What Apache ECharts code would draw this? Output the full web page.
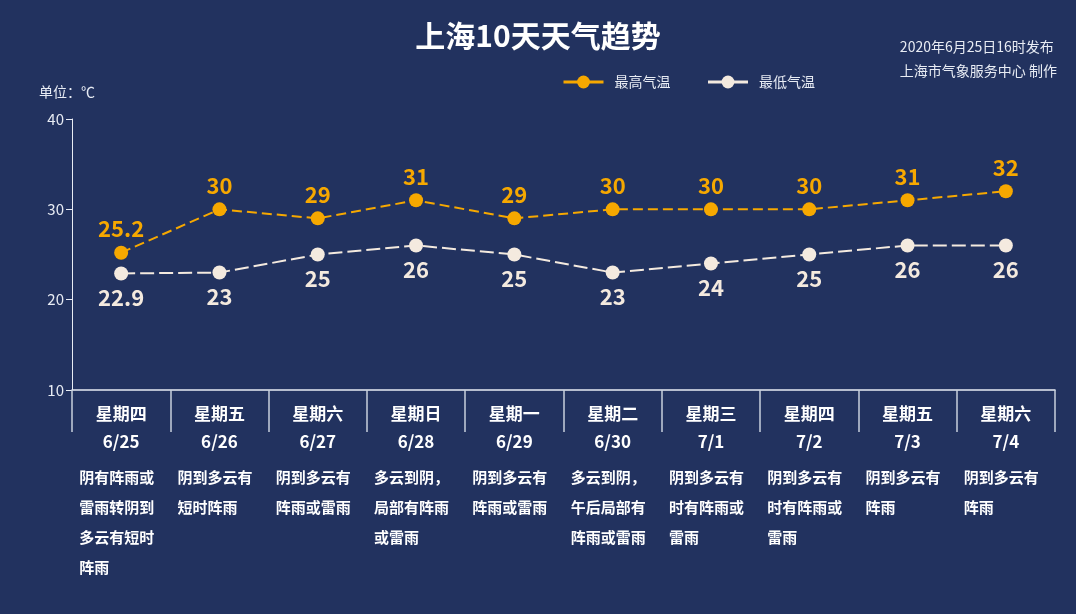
<!DOCTYPE html>
<html>
<head>
<meta charset="utf-8">
<script src="https://cdn.jsdelivr.net/npm/echarts@6/dist/echarts.min.js"></script>
<style>
html,body{margin:0;padding:0;background:#22325f;}
#chart{width:1076px;height:614px;}
</style>
</head>
<body>
<div id="chart"></div>
<script>
// 数据
var weeks = ['星期四','星期五','星期六','星期日','星期一','星期二','星期三','星期四','星期五','星期六'];
var dates = ['6/25','6/26','6/27','6/28','6/29','6/30','7/1','7/2','7/3','7/4'];
var descs = ['阴有阵雨或雷雨转阴到多云有短时阵雨','阴到多云有短时阵雨','阴到多云有阵雨或雷雨','多云到阴，局部有阵雨或雷雨',
	'阴到多云有阵雨或雷雨','多云到阴，午后局部有阵雨或雷雨','阴到多云有时有阵雨或雷雨','阴到多云有时有阵雨或雷雨','阴到多云有阵雨','阴到多云有阵雨'];
var highTemp = [25.2,30,29,31,29,30,30,30,31,32];
var lowTemp = [22.9,23,25,26,25,23,24,25,26,26];

var font = '"Noto Sans CJK SC", sans-serif';
var chart = echarts.init(document.getElementById('chart'));
var cats = weeks.map(function(w, i){ return w + '\n' + dates[i]; });

var option = {
	backgroundColor: '#22325f',
	textStyle: {fontFamily: font},
	title: [
		{text: '上海10天天气趋势', left: 'center', top: 16, textStyle: {color: '#fff', fontSize: 30, fontWeight: 'bold', fontFamily: font}},
		{text: '2020年6月25日16时发布\n上海市气象服务中心 制作', right: 14, top: 30,
			textStyle: {color: '#e8ecf4', fontSize: 14, fontWeight: 'normal', lineHeight: 24, align: 'right', fontFamily: font}}
	],
	legend: {
		left: 557, top: 70, itemWidth: 40, itemHeight: 16, itemGap: 36,
		textStyle: {color: '#e8ecf4', fontSize: 14, padding: [0,0,0,6]},
		data: [
			{name: '最高气温', itemStyle: {color: '#f6a800'}, lineStyle: {type: 'solid', width: 3}},
			{name: '最低气温', itemStyle: {color: '#f4eadf'}, lineStyle: {type: 'solid', width: 3}}
		]
	},
	grid: {left: 72, right: 21, top: 119, bottom: 224},
	xAxis: [{
		type: 'category', data: cats, boundaryGap: true,
		axisLine: {lineStyle: {color: '#e8ecf4', width: 1.5}},
		axisTick: {show: true, length: 42, interval: 0, alignWithLabel: false, lineStyle: {color: '#c8cfdd', width: 1.5}},
		axisLabel: {color: '#fff', fontSize: 17, fontWeight: 'bold', lineHeight: 28, margin: 10, interval: 0}
	}, {
		type: 'category', data: descs, position: 'bottom', boundaryGap: true,
		axisLine: {show: false}, axisTick: {show: false},
		axisLabel: {
			interval: 0, margin: 72, color: '#fff', fontSize: 15, fontWeight: 'bold',
			formatter: function(v){
				var out = [];
				for (var i = 0; i < v.length; i += 5) out.push('{d|' + v.substr(i, 5) + '}');
				return out.join('\n');
			},
			rich: {d: {width: 84, align: 'left', lineHeight: 30, fontSize: 15, fontWeight: 'bold', color: '#fff'}}
		}
	}],
	yAxis: {
		type: 'value', min: 10, max: 40, interval: 10,
		name: '单位：℃', nameGap: 20, nameTextStyle: {color: '#e8ecf4', fontSize: 14, align: 'center', padding: [0,10,0,0]},
		splitLine: {show: false},
		axisLine: {show: true, lineStyle: {color: '#e8ecf4'}},
		axisTick: {show: true, length: 6},
		axisLabel: {color: '#e8ecf4', fontSize: 15}
	},
	series: [{
		name: '最高气温', type: 'line', data: highTemp, symbol: 'circle', symbolSize: 14,
		itemStyle: {color: '#f6a800'},
		lineStyle: {color: '#f6a800', width: 2, type: [10, 5]},
		label: {show: true, position: 'top', color: '#f6a800', fontSize: 22, fontWeight: 'bold', distance: 6}
	}, {
		name: '最低气温', type: 'line', data: lowTemp, symbol: 'circle', symbolSize: 14,
		itemStyle: {color: '#f4eadf'},
		lineStyle: {color: '#f4eadf', width: 2, type: [14, 5]},
		label: {show: true, position: 'bottom', color: '#f4eadf', fontSize: 22, fontWeight: 'bold', distance: 6}
	}]
};
chart.setOption(option);
</script>
</body>
</html>
